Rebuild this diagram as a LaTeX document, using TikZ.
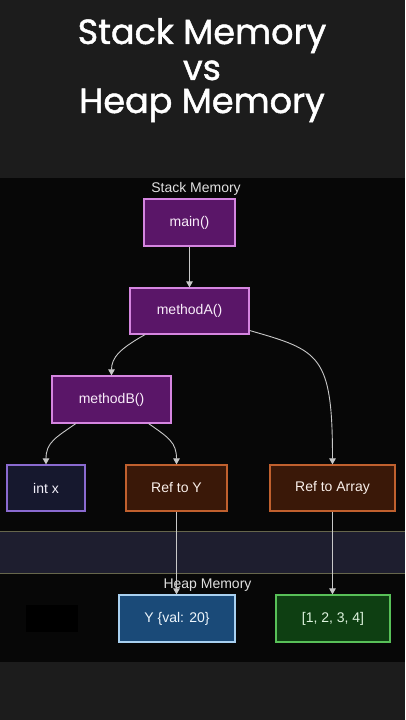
\documentclass[tikz,border=0pt]{standalone}
\usepackage{fontspec}
\setmainfont{Liberation Sans}
\newfontfamily\titlefont{Poppins}[FakeBold=1.3]
\usepackage{xcolor}
\usetikzlibrary{arrows.meta,positioning}

\definecolor{pagebg}{HTML}{1C1C1C}
\definecolor{diagbg}{HTML}{070707}
\definecolor{bandbg}{HTML}{1E1E2F}
\definecolor{bandline}{HTML}{66664C}
\definecolor{edgegray}{HTML}{C8C8C8}
\definecolor{stackfill}{HTML}{5A1668}
\definecolor{stackdraw}{HTML}{D585E0}
\definecolor{varfill}{HTML}{16182E}
\definecolor{vardraw}{HTML}{8A6AD0}
\definecolor{reffill}{HTML}{3A1808}
\definecolor{refdraw}{HTML}{C0602E}
\definecolor{objfill}{HTML}{1A4A78}
\definecolor{objdraw}{HTML}{A8D0F0}
\definecolor{arrfill}{HTML}{0E3F12}
\definecolor{arrdraw}{HTML}{58C058}

\begin{document}
\begin{tikzpicture}[x=1pt,y=1pt,
  box/.style={draw, line width=1.2pt, minimum height=46pt, inner sep=0pt,
    font=\fontsize{14}{16}\selectfont},
  frame/.style={box, fill=stackfill, draw=stackdraw, text=white!85!stackdraw},
  var/.style={box, fill=varfill, draw=vardraw, text=white!90!vardraw},
  ref/.style={box, fill=reffill, draw=refdraw, text=white!90!refdraw},
  obj/.style={box, fill=objfill, draw=objdraw, text=white!80!objdraw},
  arr/.style={box, fill=arrfill, draw=arrdraw, text=white!80!arrdraw},
  link/.style={draw=edgegray, line width=0.9pt,
    -{Triangle[length=6pt,width=6.5pt,fill=edgegray]}},
  group/.style={text=white!88!black, font=\fontsize{14}{16}\selectfont}]
% page and background
\fill[pagebg] (0,0) rectangle (405,720);
\useasboundingbox (0,0) rectangle (405,720);
\fill[diagbg] (0,58) rectangle (405,542);
\fill[bandbg] (0,146) rectangle (405,188);
\draw[bandline, line width=1pt] (0,188) -- (405,188);
\draw[bandline, line width=1pt] (0,146) -- (405,146);
% title
\node[anchor=base, text=white, font=\titlefont\fontsize{35}{36}\selectfont] (t1) at (202,676) {Stack Memory};
\node[anchor=base, text=white, font=\titlefont\fontsize{35}{36}\selectfont] (t2) at (202,640) {vs};
\node[anchor=base, text=white, font=\titlefont\fontsize{35}{36}\selectfont] (t3) at (202,607) {Heap Memory};
% group labels
\node[group] (stack) at (196,531) {Stack Memory};
\node[group] (heap) at (207.5,135) {Heap Memory};
% stack frames
\node[frame, minimum width=91pt, minimum height=47pt] (main) at (189.5,497.5) {main()};
\node[frame, minimum width=119pt] (mA) at (189.5,409) {methodA()};
\node[frame, minimum width=119pt, minimum height=47pt] (mB) at (111.5,320.5) {methodB()};
% stack values
\node[var, minimum width=78pt] (intx) at (46,232) {int x};
\node[ref, minimum width=101pt] (refY) at (176.5,232) {Ref to Y};
\node[ref, minimum width=125pt] (refA) at (332.5,232) {Ref to Array};
% heap objects
\fill[black] (26,88) rectangle (78,115);
\node[obj, minimum width=116pt, minimum height=47pt] (valY) at (177,101.5) {Y \{val: 20\}};
\node[arr, minimum width=114pt, minimum height=47pt] (nums) at (333,101.5) {[1, 2, 3, 4]};
% calls
\draw[link] (main.south) -- (mA.north);
\draw[link] (mA.208) .. controls +(-25,-14) and +(0,18) .. (mB.north);
\draw[link] (mA.-18) .. controls +(70,-20) and +(0,110) .. (refA.north);
\draw[link] (mB.214) .. controls +(-20,-14) and +(0,22) .. (intx.north);
\draw[link] (mB.-33) .. controls +(20,-14) and +(0,22) .. (refY.north);
% references into the heap
\draw[link] (refY.south) -- (refY.south |- valY.north);
\draw[link] (refA.south) -- (refA.south |- nums.north);
\end{tikzpicture}
\end{document}
